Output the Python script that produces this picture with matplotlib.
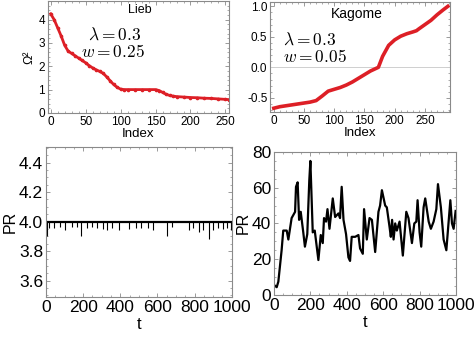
import matplotlib
matplotlib.use("Agg")
import matplotlib.pyplot as plt
from matplotlib.ticker import MultipleLocator

plt.rcParams['font.family'] = ['Liberation Sans', 'DejaVu Sans']
plt.rcParams['mathtext.fontset'] = 'cm'

# Lieb spectrum (index, Omega^2)
lieb_idx = [0, 5, 10, 15, 20, 25, 30, 35, 40, 45, 50, 55, 60, 65, 70, 75, 80, 85,
            90, 95, 100, 105, 110, 120, 130, 140, 150, 155, 160, 165, 170, 175,
            180, 190, 200, 210, 220, 230, 240, 250, 255]
lieb_om2 = [4.25, 4.0, 3.65, 3.3, 2.9, 2.65, 2.55, 2.45, 2.35, 2.25, 2.15, 2.03,
            1.93, 1.85, 1.78, 1.70, 1.55, 1.38, 1.22, 1.10, 1.02, 1.0, 1.0, 1.0,
            1.0, 1.0, 1.0, 0.96, 0.88, 0.80, 0.75, 0.72, 0.70, 0.68, 0.66, 0.65,
            0.63, 0.62, 0.60, 0.58, 0.57]

# Kagome spectrum
kag_idx = [0, 10, 20, 30, 40, 50, 60, 70, 80, 90, 100, 110, 120, 130, 140, 150,
           160, 173, 180, 190, 200, 210, 220, 230, 236, 240, 250, 260, 270, 280, 288]
kag_om2 = [-0.67, -0.645, -0.63, -0.615, -0.60, -0.585, -0.57, -0.545, -0.47,
           -0.39, -0.36, -0.33, -0.29, -0.24, -0.18, -0.12, -0.06, 0.0, 0.18,
           0.36, 0.45, 0.51, 0.55, 0.58, 0.60, 0.63, 0.70, 0.77, 0.86, 0.94, 1.0]

# Lieb PR: baseline and downward spikes
lieb_base = 3.995
spike_t = [5, 18, 45, 73, 100, 138, 165, 190, 220, 248, 275, 308, 326, 353, 394,
           445, 486, 514, 550, 578, 651, 678, 770, 789, 826, 844, 877, 899, 927,
           954, 976, 998]
spike_v = [3.90, 3.955, 3.96, 3.965, 3.945, 3.965, 3.965, 3.905, 3.96, 3.965,
           3.96, 3.95, 3.945, 3.96, 3.945, 3.95, 3.96, 3.955, 3.96, 3.94, 3.90,
           3.965, 3.945, 3.96, 3.93, 3.945, 3.88, 3.94, 3.955, 3.95, 3.96, 3.945]

# Kagome PR(t)
kag_t = [0, 15, 24, 42, 51, 70, 79, 97, 116, 121, 130, 138, 147, 161, 170, 183,
         194, 200, 213, 224, 244, 257, 268, 275, 286, 294, 305, 323, 336, 354,
         363, 372, 382, 396, 409, 418, 427, 446, 464, 473, 488, 495, 510, 525,
         538, 556, 574, 583, 593, 611, 620, 635, 642, 649, 657, 666, 675, 690,
         708, 727, 739, 758, 771, 782, 789, 800, 809, 822, 831, 850, 862, 877,
         892, 901, 917, 932, 947, 969, 978, 987, 998]
kag_pr = [5.6, 4.3, 7.4, 25, 36, 36, 31, 43, 46.5, 60.5, 63, 42, 46.5, 35, 27,
          34, 64, 75, 35, 36, 19.5, 33.5, 29, 43, 41, 48, 37, 54, 43.6, 45.6, 43,
          60.5, 42, 34, 21, 19, 32.5, 32.5, 33.5, 26, 23, 48, 31, 43, 42, 24,
          46.5, 50, 58.6, 50, 49, 38, 32.5, 42, 31, 40, 36, 41, 22, 46.5, 43, 29,
          40, 41, 53, 35, 27, 49, 54, 41, 37, 41, 48, 62, 49, 31, 25, 53, 40, 37, 47]

fig = plt.figure(figsize=(4.74, 3.37), dpi=100)
frame = '#8a8a8a'
red = '#dd1f26'


def style(ax, xmaj, xmin, ymaj, ymin, size):
    ax.xaxis.set_major_locator(MultipleLocator(xmaj))
    ax.xaxis.set_minor_locator(MultipleLocator(xmin))
    ax.yaxis.set_major_locator(MultipleLocator(ymaj))
    ax.yaxis.set_minor_locator(MultipleLocator(ymin))
    ax.tick_params(which='both', direction='in', top=True, right=True,
                   color=frame, labelsize=size, pad=2)
    ax.tick_params(which='major', length=3, width=0.6)
    ax.tick_params(which='minor', length=1.5, width=0.5)
    for s in ax.spines.values():
        s.set_color(frame)
        s.set_linewidth(0.8)


# top left: Lieb spectrum
ax1 = fig.add_axes([0.101, 0.665, 0.382, 0.332])
ax1.plot(lieb_idx, lieb_om2, '-', color=red, lw=2.0, marker='o', ms=1.6)
ax1.set_xlim(-4, 255)
ax1.set_ylim(0, 4.8)
style(ax1, 50, 10, 1, 0.2, 8.5)
ax1.set_xlabel('Index', fontsize=9.5, labelpad=0)
ax1.set_ylabel('Ω²', fontsize=9, labelpad=2)
ax1.text(0.51, 0.97, 'Lieb', transform=ax1.transAxes, ha='center', va='top', fontsize=9)
ax1.text(0.37, 0.70, r'$\lambda = 0.3$', transform=ax1.transAxes, ha='center', va='center', fontsize=12.5)
ax1.text(0.36, 0.545, r'$w = 0.25$', transform=ax1.transAxes, ha='center', va='center', fontsize=12.5)

# top right: Kagome spectrum
ax2 = fig.add_axes([0.570, 0.668, 0.380, 0.326])
ax2.axhline(0, color='#cfcfcf', lw=0.7)
ax2.plot(kag_idx, kag_om2, '-', color=red, lw=2.6)
ax2.set_xlim(-6, 292)
ax2.set_ylim(-0.73, 1.07)
style(ax2, 50, 10, 0.5, 0.1, 8.5)
ax2.yaxis.set_major_formatter(matplotlib.ticker.FormatStrFormatter('%.1f'))
ax2.set_xlabel('Index', fontsize=9.5, labelpad=0)
ax2.text(0.48, 0.89, 'Kagome', transform=ax2.transAxes, ha='center', va='center', fontsize=10)
ax2.text(0.07, 0.655, r'$\lambda = 0.3$', transform=ax2.transAxes, ha='left', va='center', fontsize=12.5)
ax2.text(0.07, 0.50, r'$w = 0.05$', transform=ax2.transAxes, ha='left', va='center', fontsize=12.5)

# bottom left: Lieb PR
ax3 = fig.add_axes([0.097, 0.119, 0.392, 0.445])
ax3.plot([0, 1000], [lieb_base, lieb_base], color='black', lw=1.6)
ax3.vlines(spike_t, spike_v, lieb_base, color='black', lw=0.8)
ax3.set_xlim(0, 1000)
ax3.set_ylim(3.49, 4.506)
style(ax3, 200, 50, 0.2, 0.05, 12.5)
ax3.set_xlabel('t', fontsize=12, labelpad=2)
ax3.set_ylabel('PR', fontsize=11.5, labelpad=1)

# bottom right: Kagome PR
ax4 = fig.add_axes([0.578, 0.125, 0.384, 0.424])
ax4.plot(kag_t, kag_pr, color='black', lw=1.6)
ax4.set_xlim(0, 1000)
ax4.set_ylim(0, 80)
style(ax4, 200, 50, 20, 5, 12.5)
ax4.set_xlabel('t', fontsize=12, labelpad=2)
ax4.set_ylabel('PR', fontsize=11.5, labelpad=1)

fig.savefig('out.png', dpi=100)
